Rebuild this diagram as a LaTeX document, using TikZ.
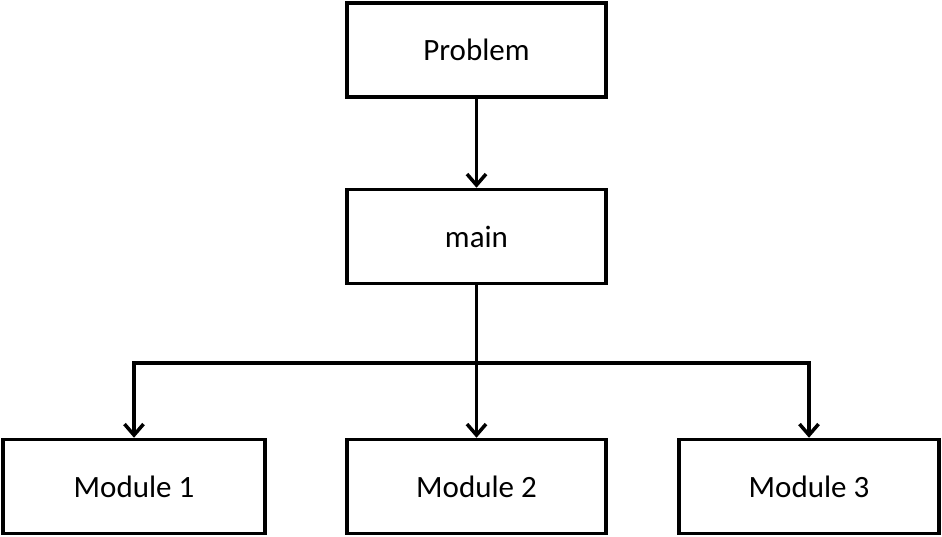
\documentclass[tikz,border=0pt]{standalone}
\usepackage{fontspec}
\setmainfont{Carlito}
\usetikzlibrary{arrows.meta}
\begin{document}
\begin{tikzpicture}[x=1pt,y=-1pt,
  box/.style={draw=black,line width=3.5pt,minimum width=259pt,minimum height=94pt,inner sep=0pt,font=\fontsize{31}{36}\selectfont},
  conn/.style={line width=3.5pt,-{Straight Barb[length=11pt,width=19pt,line width=3.5pt]}}]
\useasboundingbox (0,0) rectangle (942,537);
\node[box] (problem) at (476.5,50) {Problem};
\node[box] (main) at (476.5,236.5) {main};
\node[box,minimum width=262pt] (m1) at (134,486.5) {Module 1};
\node[box] (m2) at (476.5,486.5) {Module 2};
\node[box,minimum width=260pt] (m3) at (809,486.5) {Module 3};
\coordinate (bar) at (476.5,363);
\draw[conn] (problem.south) -- (main.north);
\draw[line width=3.5pt] (main.south) -- (bar);
\draw[conn] (bar) -- (m2.north);
\draw[conn] (bar) -| (m1.north);
\draw[conn] (bar) -| (m3.north);
\end{tikzpicture}
\end{document}
